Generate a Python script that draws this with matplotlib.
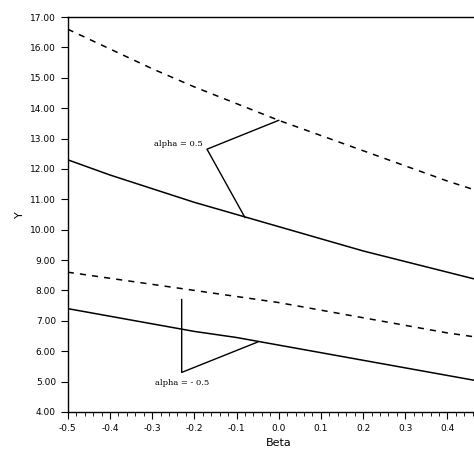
import numpy as np
import matplotlib.pyplot as plt
from matplotlib.ticker import MultipleLocator, FormatStrFormatter, FuncFormatter

beta = [-0.5, -0.4, -0.3, -0.2, -0.1, 0.0, 0.1, 0.2, 0.3, 0.4, 0.5]
up_dash = [16.6, 15.95, 15.3, 14.7, 14.15, 13.6, 13.1, 12.6, 12.1, 11.6, 11.15]
up_solid = [12.3, 11.8, 11.35, 10.9, 10.5, 10.1, 9.7, 9.3, 8.95, 8.6, 8.25]
lo_dash = [8.6, 8.4, 8.2, 8.0, 7.8, 7.6, 7.35, 7.1, 6.85, 6.6, 6.4]
lo_solid = [7.4, 7.15, 6.9, 6.65, 6.45, 6.2, 5.95, 5.7, 5.45, 5.2, 4.95]

fig = plt.figure(figsize=(4.74, 4.74), dpi=100)
ax = fig.add_axes([0.143, 0.131, 0.89, 0.833])
ax.plot(beta, up_dash, 'k', ls=(0, (4, 4)), lw=1.1)
ax.plot(beta, up_solid, 'k-', lw=1.1)
ax.plot(beta, lo_dash, 'k', ls=(0, (4, 4)), lw=1.1)
ax.plot(beta, lo_solid, 'k-', lw=1.1)

# leader lines for labels
ax.plot([0.0, -0.17, -0.08], [13.6, 12.65, 10.4], 'k-', lw=1)
ax.text(-0.18, 12.75, 'alpha = 0.5', fontsize=6, ha='right', family='serif')
ax.plot([-0.23, -0.23, -0.05], [7.7, 5.3, 6.3], 'k-', lw=1)
ax.text(-0.23, 4.9, 'alpha = - 0.5', fontsize=6, ha='center', family='serif')

ax.set_xlim(-0.5, 0.5)
ax.set_ylim(4, 17)
ax.xaxis.set_major_locator(MultipleLocator(0.1))
ax.xaxis.set_minor_locator(MultipleLocator(0.02))
ax.yaxis.set_major_locator(MultipleLocator(1))
ax.yaxis.set_major_formatter(FormatStrFormatter('%.2f'))
ax.xaxis.set_major_formatter(FuncFormatter(lambda v, p: '%g' % round(v, 2) if abs(v) > 1e-9 else '0.0'))
ax.tick_params(labelsize=6.5, direction='out', length=5)
ax.tick_params(which='minor', direction='out', length=3)
ax.set_xlabel('Beta', fontsize=8)
ax.set_ylabel('Y', fontsize=8)
for s in ax.spines.values():
    s.set_linewidth(1)
fig.savefig('out.png', dpi=100)
